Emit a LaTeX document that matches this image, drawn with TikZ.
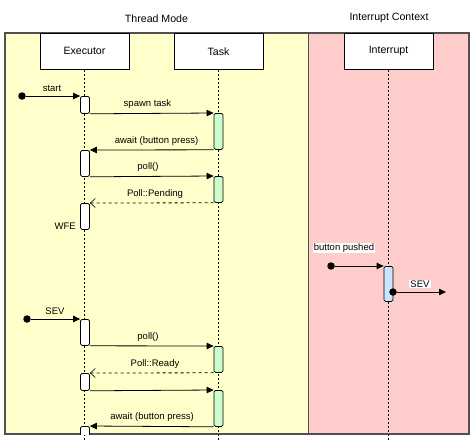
\documentclass[tikz,border=0pt]{standalone}
\usepackage{fontspec}
\setmainfont{Liberation Sans}
\usetikzlibrary{arrows.meta}
\definecolor{yel}{HTML}{FFFFCC}
\definecolor{pnk}{HTML}{FFCCCC}
\definecolor{grn}{HTML}{CCFFCC}
\definecolor{blu}{HTML}{CCE5FF}
\definecolor{frm}{HTML}{505050}
\tikzset{
  head/.style={draw=black, fill=white, line width=0.8pt, minimum width=89pt, minimum height=36pt, inner sep=0pt, anchor=north, font=\fontsize{10.6}{12}\selectfont},
  title/.style={font=\fontsize{10.6}{12}\selectfont, inner sep=0pt},
  act/.style={draw=black, line width=0.8pt, rounded corners=1.5pt, minimum width=9pt, inner sep=0pt, anchor=north},
  life/.style={line width=0.8pt, dash pattern=on 2pt off 2pt},
  msg/.style={line width=0.8pt, -{Triangle[length=7pt,width=6.5pt]}},
  ret/.style={line width=0.8pt, dash pattern=on 3pt off 3pt, -{Straight Barb[length=5pt,width=9pt,line width=0.6pt]}},
  lbl/.style={font=\fontsize{9.5}{11}\selectfont, inner sep=1pt},
  dot/.style={circle, fill=black, inner sep=0pt, minimum size=7.5pt},
}
\begin{document}
\begin{tikzpicture}[x=1pt,y=-1pt]
\useasboundingbox (0,0) rectangle (474,440);
% regions
\fill[yel] (5,33) rectangle (308,434);
\fill[pnk] (308,33) rectangle (469,434);
\draw[frm, line width=1.3pt] (5,33) rectangle (469,434);
\draw[frm, line width=1pt] (308,33) -- (308,434);
\node[title] (tm) at (156.5,19) {Thread Mode};
\node[title] (ic) at (389,18) {Interrupt Context};
% headers
\node[head] (ex) at (84.5,33) {Executor};
\node[head] (tk) at (218.5,33) {Task};
\node[head] (ir) at (388.5,33) {Interrupt};
% lifeline ends
\coordinate (exend) at (ex.south |- 0,440);
\coordinate (tkend) at (tk.south |- 0,440);
\coordinate (irend) at (ir.south |- 0,440);
\draw[life] (ex.south) -- (exend);
\draw[life] (tk.south) -- (tkend);
\draw[life] (ir.south) -- (irend);
% executor activations
\node[act, fill=white, minimum height=17pt] (e1) at (85,96) {};
\node[act, fill=white, minimum height=26pt] (e2) at (85,150) {};
\node[act, fill=white, minimum height=26pt] (e3) at (85,203) {};
\node[act, fill=white, minimum height=26pt] (e4) at (85,319) {};
\node[act, fill=white, minimum height=17pt] (e5) at (85,373) {};
\begin{scope}
\clip (5,33) rectangle (469,434);
\node[act, fill=white, minimum height=14pt] (e6) at (85,426) {};
\end{scope}
% task activations
\node[act, fill=grn, minimum height=36pt] (t1) at (218.5,113) {};
\node[act, fill=grn, minimum height=26pt] (t2) at (218.5,176) {};
\node[act, fill=grn, minimum height=26pt] (t3) at (218.5,346) {};
\node[act, fill=grn, minimum height=36pt] (t4) at (218.5,390) {};
% interrupt activation
\node[act, fill=blu, minimum height=35pt] (i1) at (388.5,266) {};
% start
\node[dot] (st) at (22,96) {};
\draw[msg] (st) -- (e1.north west);
\node[lbl] (lst) at (52,88) {start};
\draw[msg] (e1.south east) -- (t1.north west);
\node[lbl] (lsp) at (147.5,104) {spawn task};
\draw[msg] (t1.south west) -- (e2.north east);
\node[lbl] (law1) at (156.5,141) {await (button press)};
\draw[msg] (e2.south east) -- (t2.north west);
\node[lbl] (lp1) at (148,167) {poll()};
\draw[ret] (t2.south west) -- (e3.north east);
\node[lbl] (lpp) at (155,194) {Poll::Pending};
\node[lbl, anchor=east] (lwfe) at (77,226) {WFE};
% interrupt
\node[dot] (bp) at (331,266) {};
\draw[msg] (bp) -- (i1.north west);
\node[lbl, fill=white] (lbp) at (344,248) {button pushed};
\node[dot] (sv) at (393,292) {};
\coordinate (svend) at (446,292);
\draw[msg] (sv) -- (svend);
\node[lbl, fill=white] (lsv) at (420,284) {SEV};
% SEV to executor
\node[dot] (sv2) at (27,319) {};
\draw[msg] (sv2) -- (e4.north west);
\node[lbl] (lsv2) at (55,311) {SEV};
\draw[msg] (e4.south east) -- (t3.north west);
\node[lbl] (lp2) at (148,337) {poll()};
\draw[ret] (t3.south west) -- (e5.north east);
\node[lbl] (lpr) at (155,364) {Poll::Ready};
\draw[msg] (e5.south east) -- (t4.north west);
\draw[msg] (t4.south west) -- (e6.north east);
\node[lbl] (law2) at (152,417) {await (button press)};
\end{tikzpicture}
\end{document}
